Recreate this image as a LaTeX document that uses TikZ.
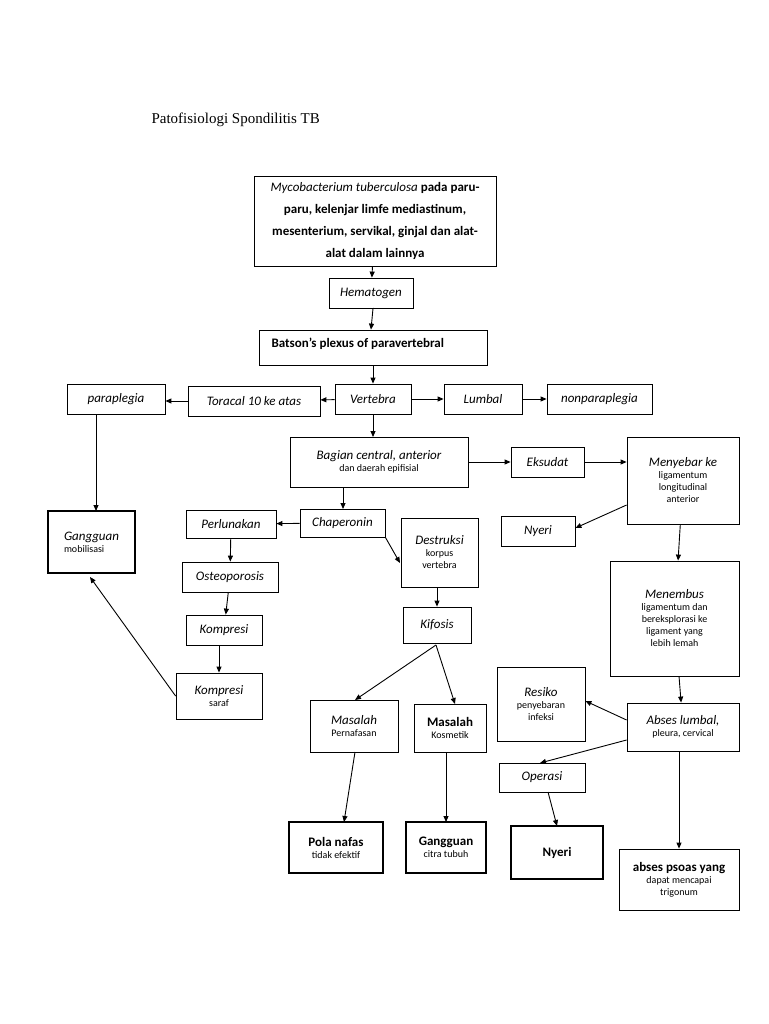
\documentclass[tikz,border=0pt]{standalone}
\usepackage{fontspec}
\setmainfont{Carlito}
\newfontfamily\titlefont{Liberation Serif}
\usetikzlibrary{arrows.meta}
\begin{document}
\begin{tikzpicture}[x=1pt,y=-1pt,
  bx/.style={draw,line width=0.8pt,align=center,inner sep=0pt,font=\fontsize{13}{21}\selectfont\itshape},
  bb/.style={bx,font=\fontsize{13}{21}\selectfont\bfseries},
  tk/.style={line width=2.2pt},
  ar/.style={-{Triangle[length=6pt,width=5pt]},line width=0.9pt}]
\useasboundingbox (0,0) rectangle (768,1024);
\newcommand\bxat[6]{\node[#1,minimum width=#4-#2,minimum height=#5-#3] (#6) at ({(#2+#4)/2},{(#3+#5)/2}) {};}
\node[anchor=base west,font=\titlefont\fontsize{15}{18}\selectfont] (title) at (148,124) {Patofisiologi Spondilitis TB};
% boxes
\bxat{bx}{254}{176}{496}{266}{myco}
\node[font=\fontsize{13}{22}\selectfont\bfseries,align=center] at (myco) {\mdseries\itshape Mycobacterium tuberculosa\upshape\bfseries\ pada paru-\\paru, kelenjar limfe mediastinum,\\mesenterium, servikal, ginjal dan alat-\\alat dalam lainnya};
\bxat{bx}{329}{278}{413}{308}{hema}\node at (hema) {\fontsize{13}{21}\selectfont\itshape Hematogen};
\bxat{bx}{259}{330}{487}{365}{bat}
\node[anchor=west,font=\fontsize{13}{21}\selectfont\bfseries] at (268,344) {Batson’s plexus of paravertebral};
\bxat{bx}{67}{384}{165}{414}{para}\node at (para) {\fontsize{13}{21}\selectfont\itshape paraplegia};
\bxat{bx}{188}{386}{320}{416}{tor}\node at (tor) {\fontsize{13}{21}\selectfont\itshape Toracal 10 ke atas};
\bxat{bx}{335}{384}{411}{414}{vert}\node at (vert) {\fontsize{13}{21}\selectfont\itshape Vertebra};
\bxat{bx}{444}{384}{522}{414}{lum}\node at (lum) {\fontsize{13}{21}\selectfont\itshape Lumbal};
\bxat{bx}{547}{384}{652}{414}{nonp}\node at (nonp) {\fontsize{13}{21}\selectfont\itshape nonparaplegia};
\bxat{bx}{290}{437}{468}{487}{bag}\node[align=center] at (bag) {\fontsize{13}{21}\selectfont\itshape Bagian central, anterior\\dan daerah epifisial};
\bxat{bx}{511}{447}{584}{477}{eks}\node at (eks) {\fontsize{13}{21}\selectfont\itshape Eksudat};
\bxat{bx}{627}{437}{739}{524}{meny}\node[align=center] at (meny) {\fontsize{13}{21}\selectfont\itshape Menyebar ke\\ligamentum\\longitudinal\\anterior};
\bxat{bx,tk}{48}{511}{135}{573}{gm}\node[align=left] at (gm) {\fontsize{13}{21}\selectfont\itshape Gangguan\\mobilisasi};
\bxat{bx}{186}{510}{276}{538}{perl}\node at (perl) {\fontsize{13}{21}\selectfont\itshape Perlunakan};
\bxat{bx}{300}{509}{385}{537}{chap}\node at (chap) {\fontsize{13}{21}\selectfont\itshape Chaperonin};
\bxat{bx}{401}{518}{478}{587}{des}\node[align=center] at (des) {\fontsize{13}{21}\selectfont\itshape Destruksi\\korpus\\vertebra};
\bxat{bx}{501}{516}{575}{546}{ny1}\node at (ny1) {\fontsize{13}{21}\selectfont\itshape Nyeri};
\bxat{bx}{182}{562}{278}{592}{ost}\node at (ost) {\fontsize{13}{21}\selectfont\itshape Osteoporosis};
\bxat{bx}{186}{615}{262}{645}{komp}\node at (komp) {\fontsize{13}{21}\selectfont\itshape Kompresi};
\bxat{bx}{176}{673}{262}{719}{ks}\node[align=center] at (ks) {\fontsize{13}{21}\selectfont\itshape Kompresi\\saraf};
\bxat{bx}{403}{607}{471}{643}{kif}\node at (kif) {\fontsize{13}{21}\selectfont\itshape Kifosis};
\bxat{bx}{610}{561}{739}{676}{men}\node[align=center] at (men) {\fontsize{13}{21}\selectfont\itshape Menembus\\ligamentum dan\\bereksplorasi ke\\ligament yang\\lebih lemah};
\bxat{bx}{497}{667}{585}{741}{res}\node[align=center] at (res) {\fontsize{13}{21}\selectfont\itshape Resiko\\penyebaran\\infeksi};
\bxat{bx}{310}{700}{398}{752}{mp}\node[align=center] at (mp) {\fontsize{13}{21}\selectfont\itshape Masalah\\Pernafasan};
\bxat{bx}{414}{704}{486}{752}{mk}\node[align=center] at (mk) {\fontsize{13}{21}\selectfont\bfseries Masalah\\Kosmetik};
\bxat{bx}{627}{703}{739}{751}{abs}\node[align=center] at (abs) {\fontsize{13}{21}\selectfont\itshape Abses lumbal,\\pleura, cervical};
\bxat{bx}{499}{763}{585}{792}{op}\node at (op) {\fontsize{13}{21}\selectfont\itshape Operasi};
\bxat{bx,tk}{289}{822}{383}{873}{pola}\node[align=center] at (pola) {\fontsize{13}{21}\selectfont\bfseries Pola nafas\\tidak efektif};
\bxat{bx,tk}{406}{822}{486}{873}{gc}\node[align=center] at (gc) {\fontsize{13}{21}\selectfont\bfseries Gangguan\\citra tubuh};
\bxat{bx,tk}{511}{826}{603}{879}{ny2}\node at (ny2) {\fontsize{13}{21}\selectfont\bfseries Nyeri};
\bxat{bx}{619}{849}{739}{910}{psoas}\node[align=center] at (psoas) {\fontsize{13}{21}\selectfont\bfseries abses psoas yang\\dapat mencapai\\trigonum};
% arrows
\draw[ar] (myco) -- (hema);
\draw[ar] (hema) -- (bat.south |- hema.south) -- (hema.south |- bat.north);
\draw[ar] (bat.south -| vert) -- (vert);
\draw[ar] (vert) -- (tor);
\draw[ar] (tor.west) -- (tor.west -| para.east);
\draw[ar] (vert) -- (lum);
\draw[ar] (lum) -- (nonp);
\draw[ar] (96,414) -- (96,511);
\draw[ar] (373,414) -- (373,437);
\draw[ar] (bag.east |- eks) -- (eks);
\draw[ar] (eks) -- (meny.west |- eks);
\draw[ar] (meny.west |- 0,505) -- (ny1.east |- 0,528);
\draw[ar] (meny) -- (men);
\draw[ar] (343,487) -- (343,509);
\draw[ar] (chap) -- (perl);
\draw[ar] (chap.south east) -- (400,563);
\draw[ar] (perl) -- (ost);
\draw[ar] (ost) -- (komp);
\draw[ar] (komp.south -| ks) -- (ks);
\draw[ar] (ks.west) -- (90,577);
\draw[ar] (des.south -| kif) -- (kif);
\draw[ar] (436,645) -- (355,700);
\draw[ar] (436,645) -- (455,704);
\draw[ar] (355,752) -- (344,822);
\draw[ar] (446,752) -- (446,822);
\draw[ar] (men) -- (abs);
\draw[ar] (abs.west |- 0,720) -- (res.east |- 0,701);
\draw[ar] (abs.west |- 0,740) -- (540,763);
\draw[ar] (548,792) -- (557,826);
\draw[ar] (abs.south -| psoas) -- (psoas);
\end{tikzpicture}
\end{document}
